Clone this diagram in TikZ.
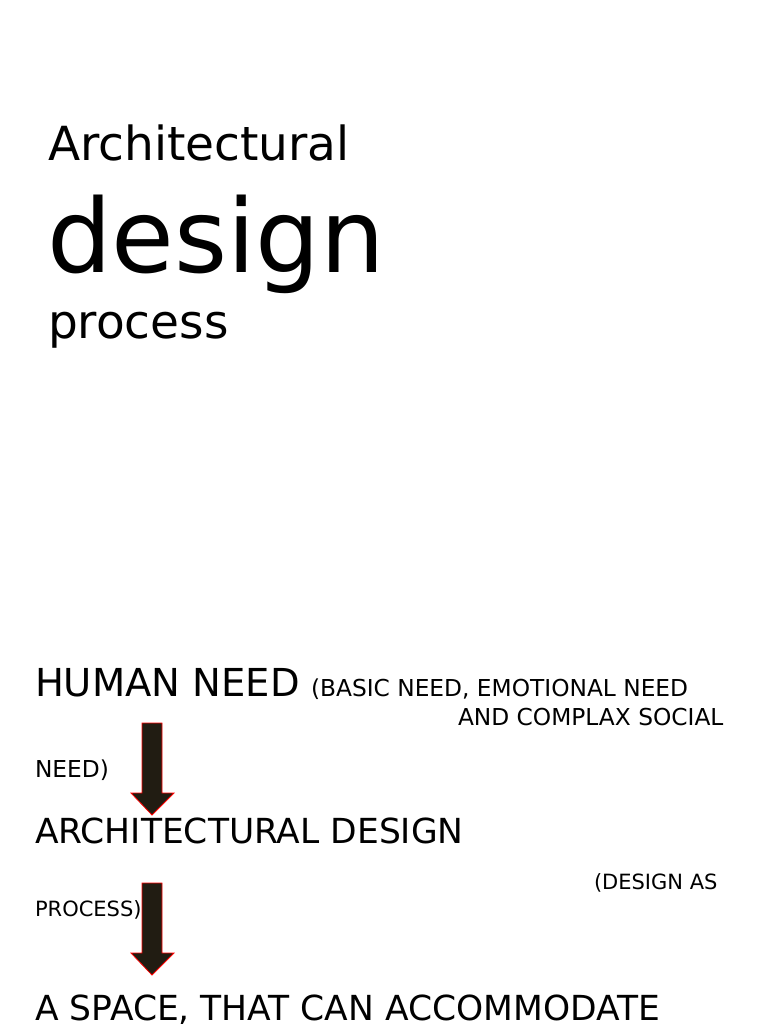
\documentclass[tikz,border=0pt]{standalone}
\usepackage{fontspec}
\setmainfont{DejaVu Sans}
\usetikzlibrary{positioning}
\definecolor{arrowfill}{RGB}{33,28,18}
\tikzset{
every node/.style={inner sep=0pt, outer sep=0pt, anchor=base west}, % text sits on its baseline
big/.style={font=\fontsize{34.5}{34.5}\selectfont},
small/.style={font=\fontsize{23.3}{23.3}\selectfont},
smaller/.style={font=\fontsize{21}{21}\selectfont},
blockarrow/.style={fill=arrowfill, draw=red, line width=0.8pt},
}
\begin{document}
\begin{tikzpicture}[x=1pt,y=-1pt]
        \useasboundingbox (0,0) rectangle (768,1024);
        % title
        \node[font=\fontsize{47}{47}\selectfont] (arch) at (48,161) {Architectural};
        \node[font=\fontsize{102}{102}\selectfont] (design) at (47,272) {design};
        \node[font=\fontsize{47}{47}\selectfont] (process) at (48,338) {process};
        % steps
        \node[font=\fontsize{38.5}{38.5}\selectfont] (need) at (35,696) {HUMAN NEED};
        \node[small] (needa) at (311,696) {(BASIC NEED, EMOTIONAL NEED};
        \node[small] (needb) at (458,725) {AND COMPLAX SOCIAL};
        \node[small] (needc) at (35,777) {NEED)};
        \node[big] (archdes) at (35,843) {ARCHITECTURAL DESIGN};
        \node[smaller] (desa) at (594,889) {(DESIGN AS};
        \node[smaller] (desb) at (35,916) {PROCESS)};
        \node[big] (space) at (35,1020) {A SPACE, THAT CAN ACCOMMODATE};
        % arrows
        \foreach \y in {723,883}
            \draw[blockarrow] (142,\y) -- (162,\y) -- (162,\y+70) -- (174,\y+70)
                -- (152,\y+92) -- (131,\y+70) -- (142,\y+70) -- cycle;
\end{tikzpicture}
\end{document}
